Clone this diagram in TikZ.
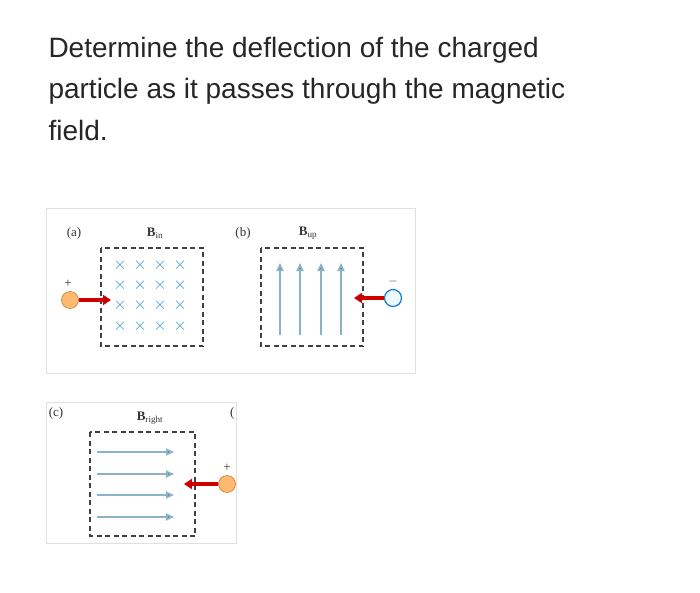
\documentclass[tikz,border=0pt]{standalone}
\usepackage{fontspec}
\setmainfont{Liberation Serif}
\newfontfamily\qfont{Liberation Sans}
\usetikzlibrary{arrows.meta}
\begin{document}
\begin{tikzpicture}[x=1pt,y=-1pt,
 panel/.style={draw=black!12,line width=1pt},
 field/.style={draw=black!75,line width=1.4pt,dash pattern=on 5pt off 3.5pt},
 cross/.style={text=blue!35!cyan!60!gray,font=\fontsize{17}{17}\selectfont},
 bline/.style={draw=cyan!40!gray!80,line width=1.8pt,-{Triangle[length=8pt,width=7pt,fill=cyan!50!blue!70!black]}},
 vel/.style={draw=red!80!black,line width=4pt,-{Triangle[length=8pt,width=10pt]}},
 lab/.style={font=\fontsize{13}{13}\selectfont,text=black!80},
 poscharge/.style={circle,minimum size=17pt,inner sep=0pt,draw=orange!70!black,fill=orange!55},
 negcharge/.style={circle,minimum size=17pt,inner sep=0pt,draw=cyan!60!blue,fill=cyan!8,line width=1.2pt},
 qtext/.style={font=\qfont\fontsize{28}{28}\selectfont,anchor=base west,text=black!85}]
\useasboundingbox (0,0) rectangle (700,592);
\node[qtext] (t1) at (45,57) {Determine the deflection of the charged};
\node[qtext] (t2) at (45,98) {particle as it passes through the magnetic};
\node[qtext] (t3) at (45,140) {field.};
% panels
\draw[panel] (46,208) rectangle (415,373);
\draw[panel] (46,402) rectangle (236,543);
% (a)
\node[lab] (la) at (74,233) {(a)};
\node[lab] (ba) at (155,233) {\textbf{B}\textsubscript{in}};
\draw[field] (101,248) rectangle (203,346);
\foreach \x in {120,140,160,180}\foreach \y in {265,285,305,326}
  \node[cross] at (\x,\y) {$\times$};
\node[poscharge] (pa) at (70,300) {};
\node[lab] (sa) at (68,284) {+};
\coordinate (ea) at (111,300);
\draw[vel] (pa.east) -- (ea);
% (b)
\node[lab] (lb) at (243,233) {(b)};
\node[lab] (bb) at (308,233) {\textbf{B}\textsubscript{up}};
\draw[field] (261,248) rectangle (363,346);
\foreach \x in {280,300,321,341}
  \draw[bline] (\x,335) -- (\x,263);
\node[negcharge] (pb) at (393,298) {};
\node[lab] (sb) at (393,281) {$-$};
\coordinate (eb) at (354,298);
\draw[vel] (pb.west) -- (eb);
% (c)
\node[lab] (lc) at (56,413) {(c)};
\node[lab] (bc) at (150,418) {\textbf{B}\textsubscript{right}};
\node[lab,anchor=west,inner sep=0pt] (ld) at (230,413) {(};
\draw[field] (90,432) rectangle (195,536);
\foreach \y in {452,474,495,517}
  \draw[bline] (97,\y) -- (174,\y);
\node[poscharge] (pc) at (227,484) {};
\node[lab] (sc) at (227,468) {+};
\coordinate (ec) at (184,484);
\draw[vel] (pc.west) -- (ec);
\end{tikzpicture}
\end{document}
